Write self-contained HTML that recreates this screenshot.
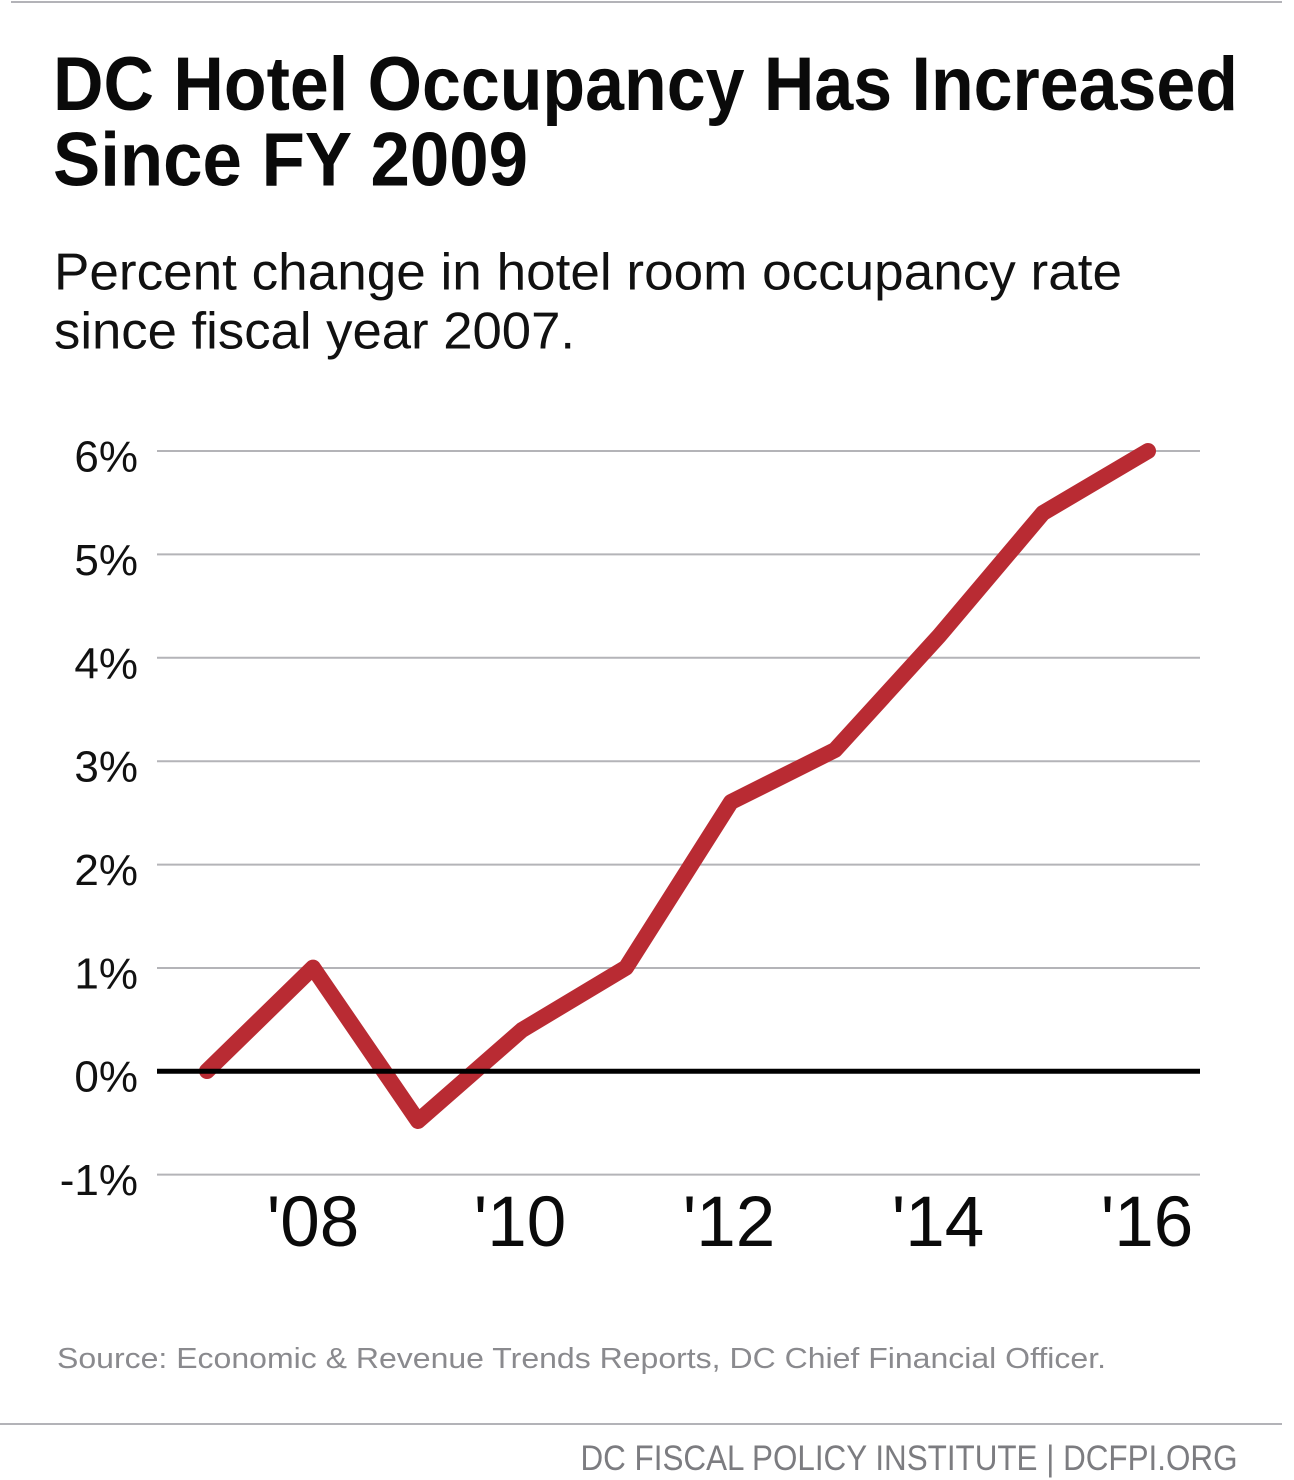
<!DOCTYPE html>
<html>
<head>
<meta charset="utf-8">
<style>
  html, body { margin: 0; padding: 0; background: #ffffff; }
  svg { display: block; }
  text { font-family: "Liberation Sans", sans-serif; }
</style>
</head>
<body>
<svg width="1294" height="1480" viewBox="0 0 1294 1480" xmlns="http://www.w3.org/2000/svg">
  <rect x="0" y="0" width="1294" height="1480" fill="#ffffff"/>
  <!-- top rule -->
  <line x1="11" y1="2" x2="1282" y2="2" stroke="#b3b3b8" stroke-width="2"/>

  <!-- title -->
  <text x="53" y="110" font-size="76" font-weight="bold" fill="#0a0a0a" textLength="1185" lengthAdjust="spacingAndGlyphs">DC Hotel Occupancy Has Increased</text>
  <text x="53" y="185.5" font-size="76" font-weight="bold" fill="#0a0a0a" textLength="475" lengthAdjust="spacingAndGlyphs">Since FY 2009</text>

  <!-- subtitle -->
  <text x="54" y="289.5" font-size="52" fill="#111111" textLength="1068" lengthAdjust="spacingAndGlyphs">Percent change in hotel room occupancy rate</text>
  <text x="54" y="348.5" font-size="52" fill="#111111" textLength="521" lengthAdjust="spacingAndGlyphs">since fiscal year 2007.</text>

  <!-- gridlines -->
  <g stroke="#b4b4b8" stroke-width="2">
    <line x1="157" y1="451" x2="1200" y2="451"/>
    <line x1="157" y1="554.4" x2="1200" y2="554.4"/>
    <line x1="157" y1="657.8" x2="1200" y2="657.8"/>
    <line x1="157" y1="761.2" x2="1200" y2="761.2"/>
    <line x1="157" y1="864.6" x2="1200" y2="864.6"/>
    <line x1="157" y1="968" x2="1200" y2="968"/>
    <line x1="157" y1="1174.6" x2="1200" y2="1174.6"/>
  </g>

  <!-- y labels -->
  <g font-size="44" fill="#111111" text-anchor="end">
    <text x="138" y="471.5">6%</text>
    <text x="138" y="574.9">5%</text>
    <text x="138" y="678.3">4%</text>
    <text x="138" y="781.7">3%</text>
    <text x="138" y="885.1">2%</text>
    <text x="138" y="988.5">1%</text>
    <text x="138" y="1091.5">0%</text>
    <text x="138" y="1195">-1%</text>
  </g>

  <!-- data line -->
  <polyline fill="none" stroke="#b92b33" stroke-width="16" stroke-linecap="round" stroke-linejoin="round"
    points="207,1071 313,967.6 418,1121 522,1030 626,967.6 731,802 835,750 939,636 1043,513 1148,451"/>

  <!-- zero line -->
  <line x1="157" y1="1071.2" x2="1200" y2="1071.2" stroke="#000000" stroke-width="5"/>

  <!-- x labels -->
  <g font-size="71" fill="#0a0a0a" text-anchor="middle">
    <text x="313" y="1246">'08</text>
    <text x="520" y="1246">'10</text>
    <text x="729" y="1246">'12</text>
    <text x="938" y="1246">'14</text>
    <text x="1147" y="1246">'16</text>
  </g>

  <!-- source -->
  <text x="57" y="1368" font-size="29" fill="#8a8a8e" textLength="1049" lengthAdjust="spacingAndGlyphs">Source: Economic &amp; Revenue Trends Reports, DC Chief Financial Officer.</text>

  <!-- bottom rule -->
  <line x1="0" y1="1424" x2="1282" y2="1424" stroke="#b3b3b8" stroke-width="2"/>

  <!-- footer -->
  <text x="580.5" y="1470" font-size="35" fill="#7c7c80" textLength="657" lengthAdjust="spacingAndGlyphs">DC FISCAL POLICY INSTITUTE | DCFPI.ORG</text>
</svg>
</body>
</html>
